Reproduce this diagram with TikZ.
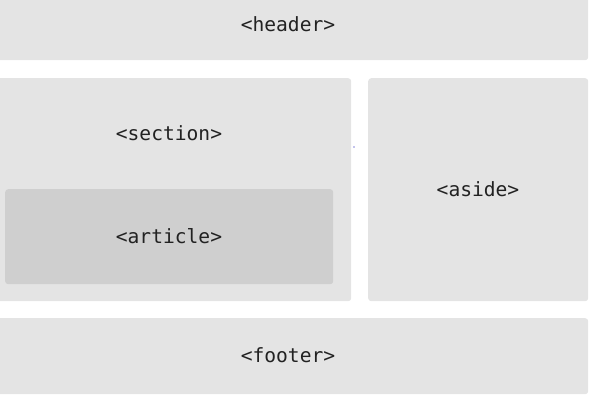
\documentclass[tikz,border=0pt]{standalone}
\usepackage{fontspec}
\newfontfamily\boxmono{DejaVu Sans Mono}
\definecolor{boxgray}{HTML}{E4E4E4}
\definecolor{artgray}{HTML}{CFCFCF}
\definecolor{txt}{HTML}{222222}
\begin{document}
\begin{tikzpicture}[x=1pt,y=-1pt,
  region/.style={fill=boxgray,draw=none,rounded corners=3pt,inner sep=0pt,anchor=north west},
  artbox/.style={fill=artgray,draw=none,rounded corners=3pt,inner sep=0pt,anchor=north west},
  tag/.style={font=\boxmono\fontsize{19.6}{22}\selectfont,text=txt,inner sep=0pt}]
\useasboundingbox (0,0) rectangle (603,403);
\node[region,minimum width=600pt,minimum height=72pt] (header) at (-12,-12) {};
\node[tag] (headerlbl) at (288,24) {<header>};
\node[region,minimum width=364pt,minimum height=223pt] (section) at (-13,78) {};
\node[tag] (sectionlbl) at (169,133) {<section>};
\node[artbox,minimum width=328pt,minimum height=95pt] (article) at (5,189) {};
\node[tag] (articlelbl) at (169,236) {<article>};
\node[region,minimum width=220pt,minimum height=223pt] (aside) at (368,78) {};
\node[tag] (asidelbl) at (478,189) {<aside>};
\node[region,minimum width=600pt,minimum height=76pt] (footer) at (-12,318) {};
\node[tag] (footerlbl) at (288,355) {<footer>};
\fill[blue!70!black] (354,147) circle (0.7pt);
\end{tikzpicture}
\end{document}
